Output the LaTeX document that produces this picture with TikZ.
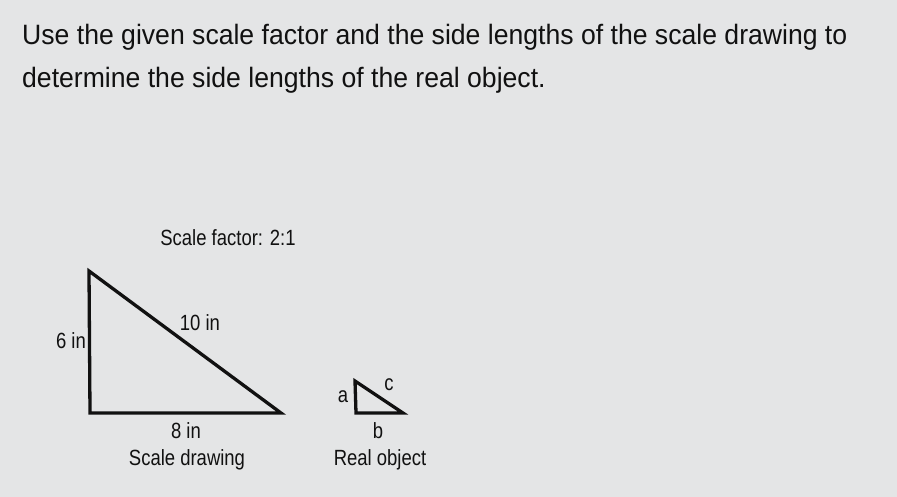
\documentclass[tikz,border=0pt]{standalone}
\usepackage{fontspec}
\setmainfont[FakeStretch=0.95]{Liberation Sans}
\newfontfamily\labelfont[FakeStretch=0.84]{Liberation Sans}
\usetikzlibrary{positioning,calc}
\definecolor{paper}{HTML}{E4E5E6}
\definecolor{ink}{HTML}{111111}
\tikzstyle{side} = [draw=ink, line width=3.3pt, line join=miter]
\tikzstyle{lbl} = [text=ink, font=\labelfont\fontsize{22}{24}\selectfont, inner sep=1pt]
\tikzstyle{question} = [text=ink, font=\fontsize{28}{31}\selectfont, anchor=base west, inner sep=0pt]

\begin{document}
\begin{tikzpicture}[x=1pt, y=-1pt]
    \fill[paper] (0,0) rectangle (897,497);
    \useasboundingbox (0,0) rectangle (897,497);
    % question text
    \node[question] (line1) at (22,45) {Use the given scale factor and the side lengths of the scale drawing to};
    \node[question] (line2) at (22,88) {determine the side lengths of the real object.};
    % scale drawing
    \node[lbl] (factor) at (228,238) {Scale factor: 2:1};
    \coordinate (top) at (89,271);
    \coordinate (corner) at (90,413);
    \coordinate (tip) at (281,413);
    \draw[side] (top) -- (corner) -- (tip) -- cycle;
    \node[lbl] (hyp) at (200,323) {10 in};
    \node[lbl, anchor=east] (leg) at (87,341) {6 in};
    \node[lbl] (base) at (186,431) {8 in};
    \node[lbl] (drawing) at (187,460) {Scale drawing};
    % real object
    \coordinate (rtop) at (355,381);
    \coordinate (rcorner) at (356,413);
    \coordinate (rtip) at (403,413);
    \draw[side] (rtop) -- (rcorner) -- (rtip) -- cycle;
    \node[lbl] (sa) at (343,397) {a};
    \node[lbl] (sc) at (389,385) {c};
    \node[lbl] (sb) at (378,431) {b};
    \node[lbl] (real) at (380,460) {Real object};
\end{tikzpicture}
\end{document}
